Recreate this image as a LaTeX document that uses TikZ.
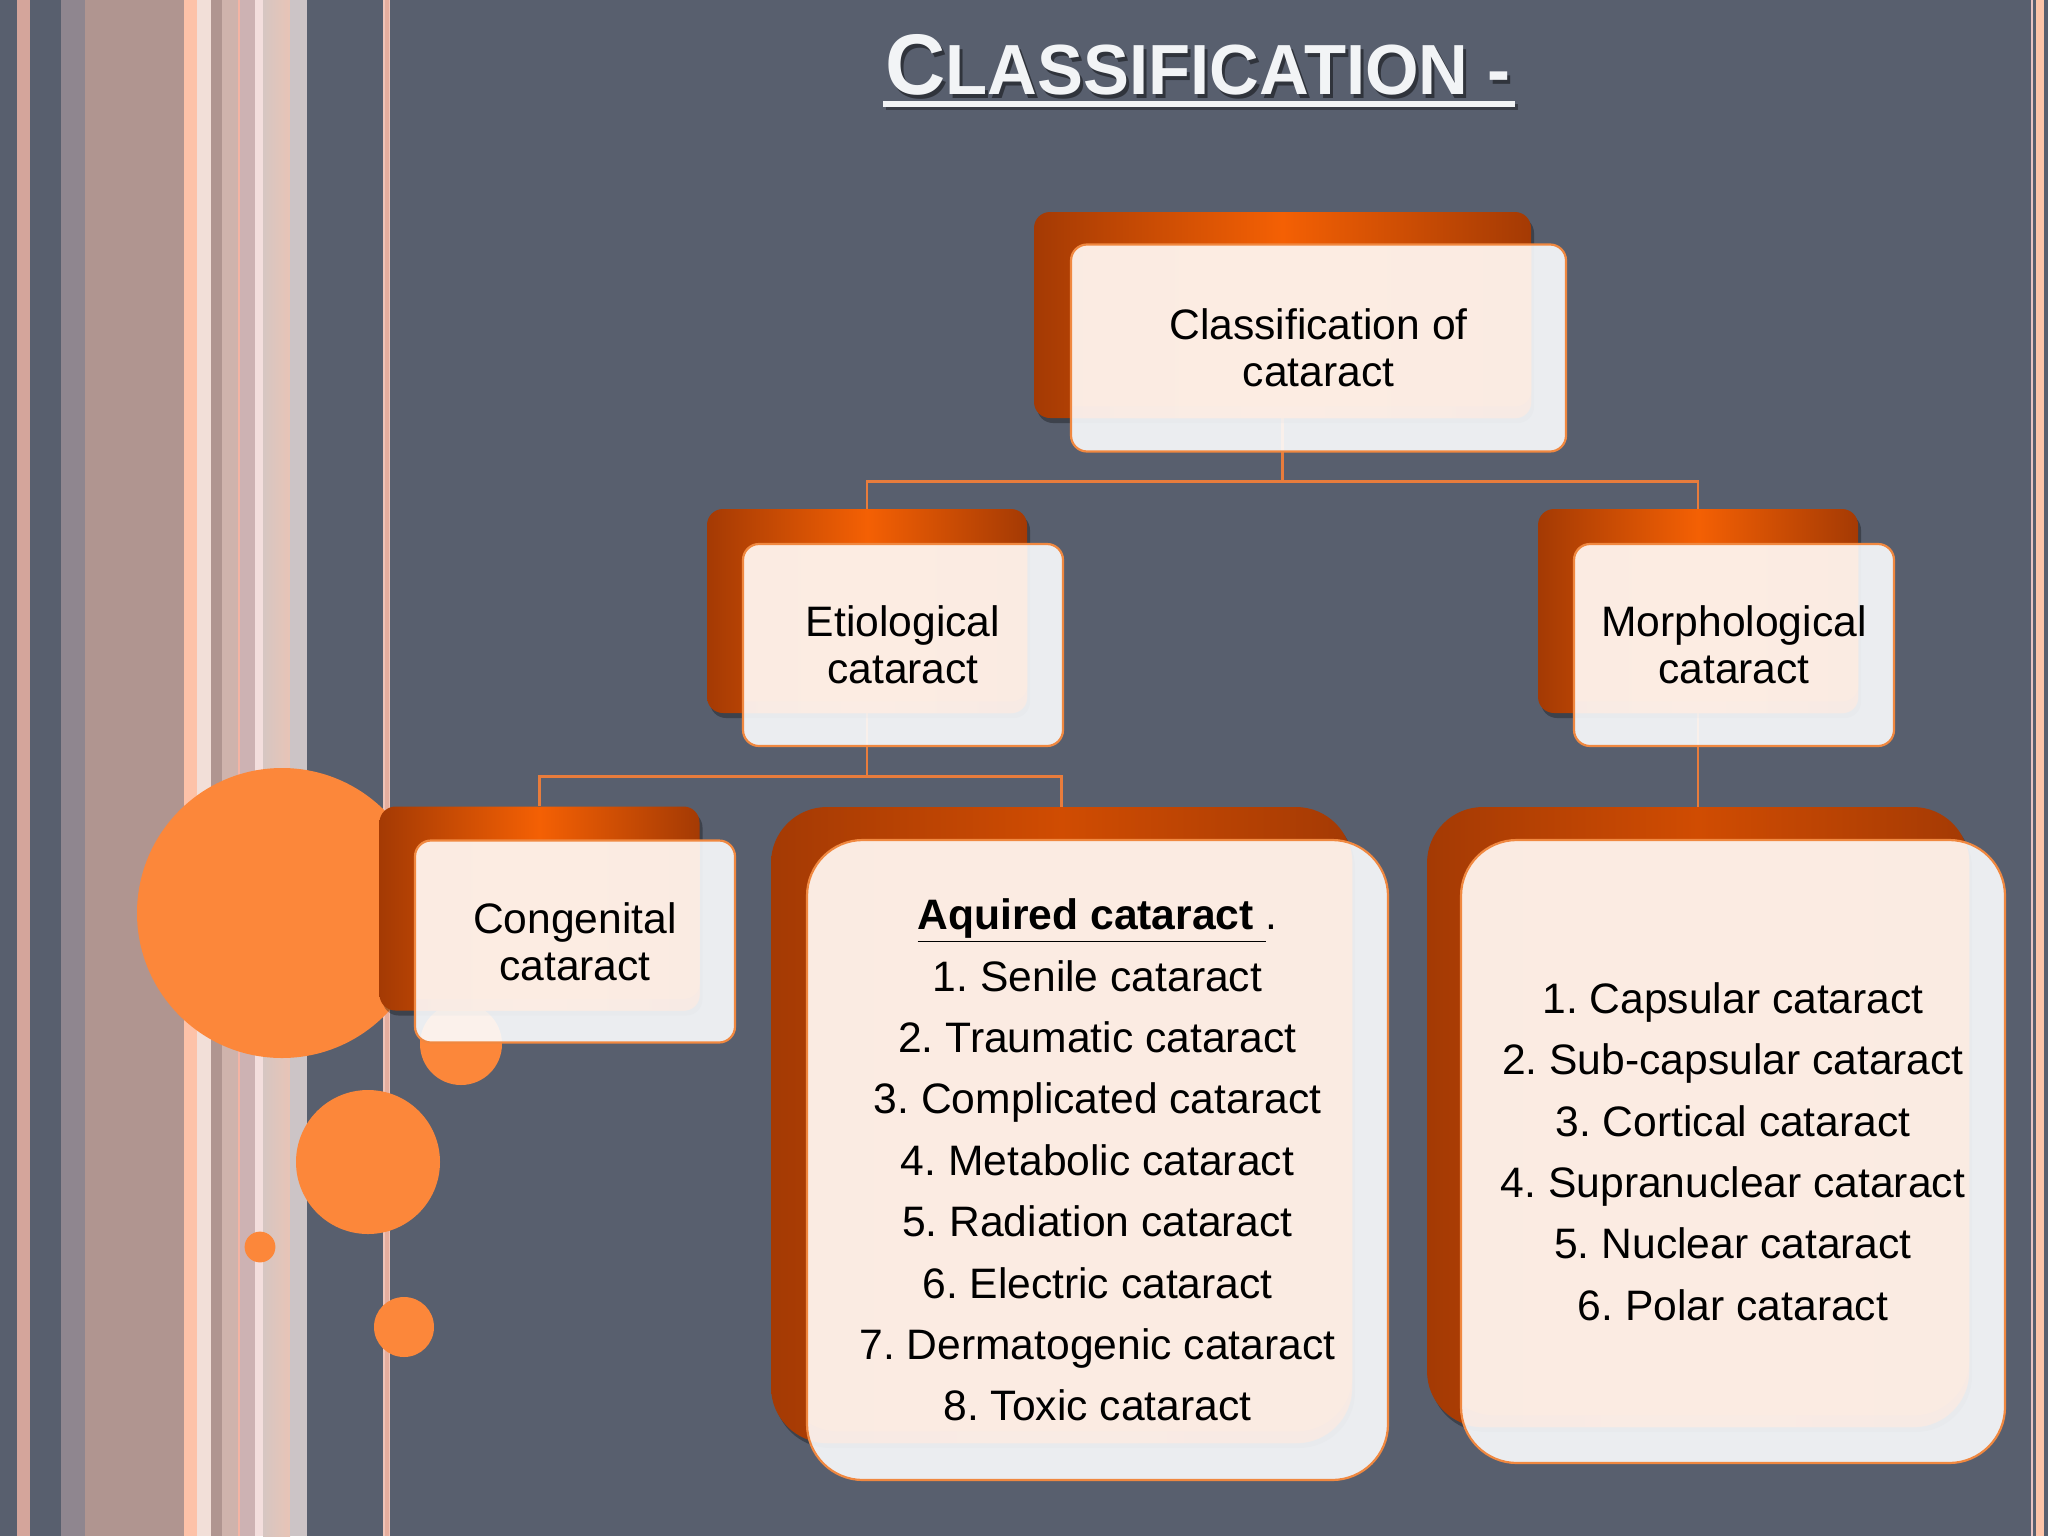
\documentclass[tikz,border=0pt]{standalone}
\usepackage{fontspec}
\setmainfont{Liberation Sans}
\usetikzlibrary{shadows}
\definecolor{slate}{RGB}{88,95,110}
\definecolor{circ}{RGB}{252,135,58}
\definecolor{bord}{RGB}{240,136,64}
\definecolor{conn}{RGB}{232,124,60}
\definecolor{bdark}{RGB}{164,58,4}
\definecolor{bbright}{RGB}{244,96,4}
\definecolor{bmid}{RGB}{208,76,2}
\definecolor{frontw}{RGB}{251,253,255}
\definecolor{peachtint}{RGB}{254,236,226}
\definecolor{titlec}{RGB}{242,244,246}
\definecolor{sa}{HTML}{D4A59B}
\definecolor{sb}{HTML}{8F868F}
\definecolor{sc}{HTML}{B09590}
\definecolor{sd}{HTML}{FDC2A8}
\definecolor{se}{HTML}{F2DFD8}
\definecolor{sf}{HTML}{CFB3AC}
\definecolor{sg}{HTML}{F4B4A4}
\definecolor{sh}{HTML}{CDB2B3}
\definecolor{si}{HTML}{F3DEDD}
\definecolor{sj}{HTML}{D6C6C2}
\definecolor{sk}{HTML}{E8C4B6}
\definecolor{sl}{HTML}{CCC4C6}
\definecolor{sm}{HTML}{F0C4B8}
\definecolor{sn}{HTML}{E6AE9E}
\definecolor{so}{HTML}{E6C2C2}
\definecolor{sp}{HTML}{FDC4A8}
\newcommand\bxfont{\frenchspacing\fontsize{21.3pt}{23.5pt}\selectfont}
\newcommand\lstfont{\frenchspacing\fontsize{21.3pt}{30.7pt}\selectfont}
\pgfdeclarelayer{backlayer}
\pgfdeclarelayer{linelayer}
\pgfsetlayers{backlayer,linelayer,main}
\tikzset{
  connline/.style={draw=conn, line width=1.2pt},
  backbox/.style={rectangle, rounded corners=8pt, inner sep=0pt,
    left color=bdark, right color=bdark, middle color=bbright,
    drop shadow={shadow xshift=1.5pt, shadow yshift=-2.5pt, opacity=0.3, fill=black}},
  bigback/.style={backbox, rounded corners=28pt, left color=bdark, right color=bdark, middle color=bmid},
  frontbox/.style={rectangle, rounded corners=8pt, inner sep=0pt, draw=bord, line width=1.1pt,
    fill=frontw, fill opacity=0.9, draw opacity=1, text opacity=1, text=black,
    align=center, font=\bxfont},
  bigfront/.style={frontbox, rounded corners=28pt, font=\lstfont},
  tint/.style 2 args={path picture={
    \begin{scope}
      \clip[rounded corners=#2] (#1.north west) rectangle (#1.south east);
      \fill[peachtint, fill opacity=0.45] (path picture bounding box.north west) rectangle (path picture bounding box.south east);
    \end{scope}
    \begin{scope}
      \clip[rounded corners=#2] ([shift={(12,0)}]#1.north west) rectangle ([shift={(0,-12)}]#1.south east);
      \fill[peachtint, fill opacity=0.5] (path picture bounding box.north west) rectangle (path picture bounding box.south east);
    \end{scope}}},
  titletext/.style={anchor=base west, inner sep=0pt, font=\bfseries}
}
\begin{document}
\begin{tikzpicture}[x=0.5pt,y=-0.5pt]
\useasboundingbox (0,0) rectangle (2048,1536);
\begin{pgfonlayer}{backlayer}
\fill[slate] (0,0) rectangle (2048,1536);
% left stripes
\fill[sa] (17,0) rectangle (30,1536);
\fill[sb] (61,0) rectangle (85,1536);
\fill[sc] (85,0) rectangle (184,1536);
\fill[sd] (184,0) rectangle (197,1536);
\fill[se] (197,0) rectangle (211,1536);
\fill[sc] (211,0) rectangle (222,1536);
\fill[sf] (222,0) rectangle (238,1536);
\fill[sg] (238,0) rectangle (240,1536);
\fill[sh] (240,0) rectangle (255,1536);
\fill[si] (255,0) rectangle (263,1536);
\shade[left color=sj, right color=sk] (263,0) rectangle (290,1536);
\fill[sl] (290,0) rectangle (307,1536);
\fill[sm] (383,0) rectangle (390,1536);
\fill[sn] (385,0) rectangle (389,1536);
% right stripes
\fill[so] (2031,0) rectangle (2033,1536);
\fill[sp] (2036,0) rectangle (2044,1536);
% circles
\fill[circ] (282,913) circle[radius=72.5pt];
\fill[circ] (461,1044) circle[radius=20.5pt];
\fill[circ] (368,1162) circle[radius=36pt];
\fill[circ] (260,1247) circle[radius=7.7pt];
\fill[circ] (404,1327) circle[radius=15pt];
\end{pgfonlayer}

% title
\node[titletext, text=black, opacity=0.45] (titleshadow) at (888,98)
  {\scalebox{0.97}[1]{{\fontsize{43pt}{43pt}\selectfont C}{\fontsize{35.5pt}{36pt}\selectfont LASSIFICATION -}}};
\fill[black, opacity=0.35] (886,104) rectangle (1518,110);
\node[titletext, text=titlec] (title) at (885,95)
  {\scalebox{0.97}[1]{{\fontsize{43pt}{43pt}\selectfont C}{\fontsize{35.5pt}{36pt}\selectfont LASSIFICATION -}}};
\fill[titlec] (883,101) rectangle (1515,107);

% back boxes
\node[backbox, minimum width=248.5pt, minimum height=103pt] (topback) at (1282.5,315) {};
\node[backbox, minimum width=160pt, minimum height=102pt] (etioback) at (867,611) {};
\node[backbox, minimum width=160pt, minimum height=102pt] (morphback) at (1698,611) {};
\node[backbox, minimum width=160pt, minimum height=102pt] (congback) at (539.5,908.5) {};
\node[bigback, minimum width=290.5pt, minimum height=318pt] (acqback) at (1061.5,1125) {};
\node[bigback, minimum width=271pt, minimum height=310pt] (rightback) at (1698,1117) {};

% front boxes
\node[frontbox, tint={topback}{8pt}, minimum width=247.5pt, minimum height=103.5pt] (top) at (1318.5,348) {Classification of\\cataract};
\node[frontbox, tint={etioback}{8pt}, minimum width=160pt, minimum height=101pt] (etio) at (903,645) {Etiological\\cataract};
\node[frontbox, tint={morphback}{8pt}, minimum width=160pt, minimum height=101pt] (morph) at (1734,645) {Morphological\\cataract};
\node[frontbox, tint={congback}{8pt}, minimum width=160pt, minimum height=101pt] (cong) at (575,941.5) {Congenital\\cataract};
\node[bigfront, tint={acqback}{28pt}, minimum width=290.5pt, minimum height=320pt] (acq) at (1097.5,1160)
  {\underline{\textbf{Aquired cataract\ }}.\\
   1. Senile cataract\\
   2. Traumatic cataract\\
   3. Complicated cataract\\
   4. Metabolic cataract\\
   5. Radiation cataract\\
   6. Electric cataract\\
   7. Dermatogenic cataract\\
   8. Toxic cataract};
\node[bigfront, tint={rightback}{28pt}, minimum width=272pt, minimum height=311.5pt] (morphlist) at (1733,1151.5)
  {1. Capsular cataract\\
   2. Sub-capsular cataract\\
   3. Cortical cataract\\
   4. Supranuclear cataract\\
   5. Nuclear cataract\\
   6. Polar cataract};

% connectors
\begin{pgfonlayer}{linelayer}
\draw[connline] (topback.south) -- ++(0,63) -| (etioback.north);
\draw[connline] (topback.south) -- ++(0,63) -| (morphback.north);
\draw[connline] (etioback.south) -- ++(0,63) -| (congback.north);
\draw[connline] (etioback.south) -- ++(0,63) -| (acqback.north);
\draw[connline] (morphback.south) -- (rightback.north);
\end{pgfonlayer}
\end{tikzpicture}
\end{document}
